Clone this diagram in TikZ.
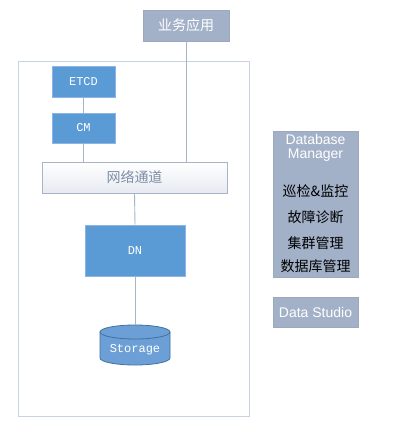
\documentclass[tikz,border=0pt]{standalone}
\usepackage{fontspec}
\setmainfont{Liberation Sans}
\newfontfamily\cjk{Noto Sans CJK SC}
\newfontfamily\monof{Liberation Mono}
\definecolor{bluebox}{HTML}{5B9BD5}
\definecolor{blueedge}{HTML}{8DB4E2}
\definecolor{graybox}{HTML}{A2B1C8}
\definecolor{frame}{HTML}{C8D2E0}
\definecolor{linec}{HTML}{A6B4C8}
\definecolor{cylfill}{HTML}{6C9FD6}
\definecolor{cyledge}{HTML}{41719C}
\definecolor{nettext}{HTML}{7F8EA8}
\tikzset{
  bluenode/.style={draw=blueedge, fill=bluebox, line width=0.8pt, text=white, inner sep=0pt, font=\monof\fontsize{12}{14}\selectfont},
  graynode/.style={draw=graybox!90!black!90, fill=graybox, line width=0.5pt, inner sep=0pt},
  conn/.style={draw=linec, line width=0.9pt},
  cjktext/.style={font=\cjk\fontsize{14}{16}\selectfont, inner sep=0pt},
}
\begin{document}
\begin{tikzpicture}[x=1pt,y=-1pt]
\useasboundingbox (0,0) rectangle (417,429);
\fill[white] (0,0) rectangle (417,429);
% container
\draw[frame, line width=0.8pt] (18,61) rectangle (249,416);
% nodes
\node[graynode, minimum width=86pt, minimum height=31pt, text=white, font=\cjk\fontsize{14}{16}\selectfont] (app) at (186,25.5) {业务应用};
\node[bluenode, minimum width=63pt, minimum height=31pt] (etcd) at (83.5,81.5) {ETCD};
\node[bluenode, minimum width=63pt, minimum height=30pt] (cm) at (83.5,128) {CM};
\node[draw=linec, line width=0.8pt, top color=white, bottom color=frame!45, minimum width=185pt, minimum height=31pt, inner sep=0pt, text=nettext, font=\cjk\fontsize{14}{16}\selectfont] (net) at (134.5,177.5) {网络通道};
\node[bluenode, minimum width=100pt, minimum height=51pt] (dn) at (135,250.5) {DN};
% storage cylinder
\draw[cyledge, fill=cylfill, line width=0.8pt] (100,332) -- (100,358) arc[start angle=180, end angle=360, x radius=35pt, y radius=7pt] -- (170,332) arc[start angle=0, end angle=180, x radius=35pt, y radius=7pt] -- cycle;
\draw[cyledge, line width=0.8pt] (100,332) arc[start angle=180, end angle=360, x radius=35pt, y radius=7pt];
\coordinate (sttop) at (135,325);
\node[text=white, font=\monof\fontsize{12}{14}\selectfont, inner sep=0pt] (st) at (135,350) {Storage};
% connectors
\draw[conn] (etcd.south) -- (cm.north);
\draw[conn] (cm.south) -- (cm.south |- net.north);
\coordinate (appnet) at (app.south |- net.north);
\draw[conn] (app.south) -- (appnet);
\draw[conn] (net.south) -- (dn.north);
\draw[conn] (dn.south) -- (sttop);
% right panel
\node[graynode, minimum width=85pt, minimum height=146pt] (dbm) at (315.5,204) {};
\node[text=white, font=\fontsize{14}{14}\selectfont, align=center, inner sep=0pt] (dbmt) at (315.5,148) {Database\\Manager};
\node[cjktext] (l1) at (315.5,191) {巡检\&监控};
\node[cjktext] (l2) at (315.5,217) {故障诊断};
\node[cjktext] (l3) at (315.5,243) {集群管理};
\node[cjktext] (l4) at (315.5,266) {数据库管理};
\node[graynode, minimum width=85pt, minimum height=30pt, text=white, font=\fontsize{14}{16}\selectfont] (ds) at (315.5,312) {Data Studio};
\end{tikzpicture}
\end{document}
